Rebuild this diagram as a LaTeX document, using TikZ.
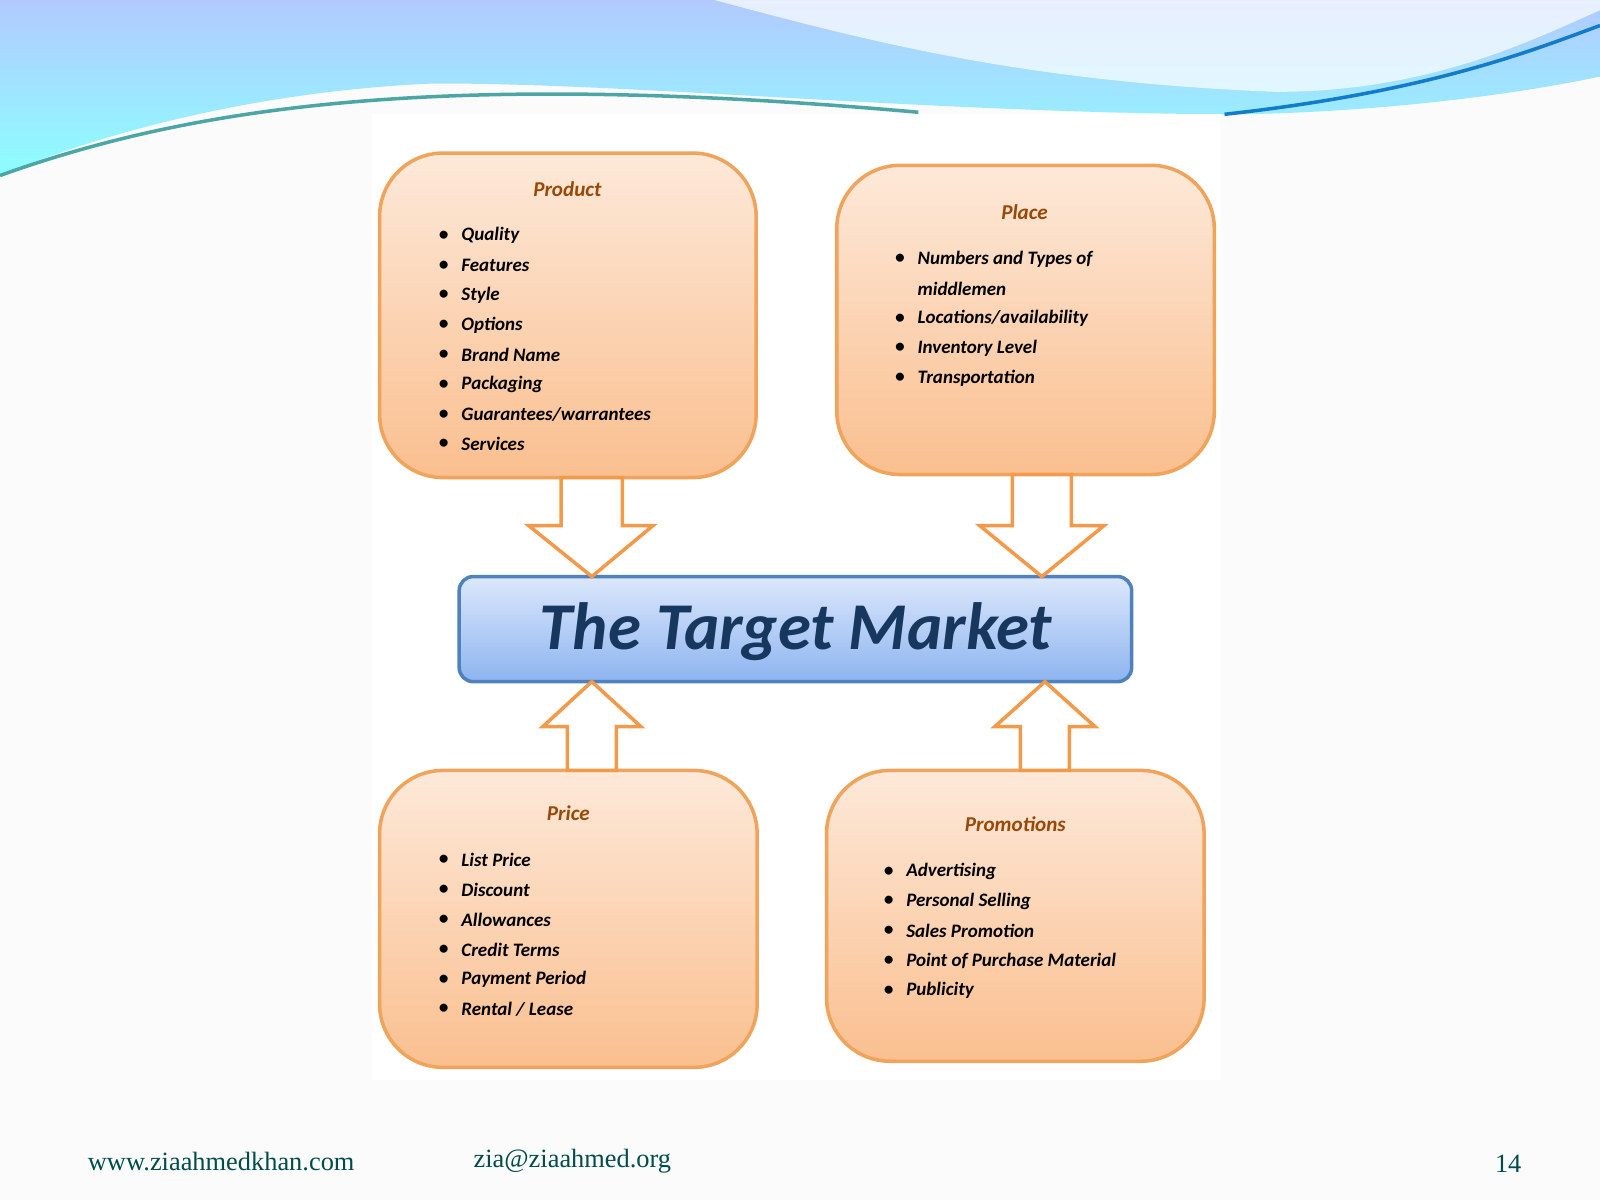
\documentclass[tikz,border=0pt]{standalone}
\usepackage{fontspec}
\setmainfont{Carlito}
\newfontfamily\footfont{Liberation Serif}
\definecolor{boxtop}{HTML}{FDE9D9}
\definecolor{boxbot}{HTML}{FABF8F}
\definecolor{boxline}{HTML}{F0A35A}
\definecolor{ttlcol}{HTML}{984807}
\definecolor{arrcol}{HTML}{F29A4A}
\definecolor{tmtop}{HTML}{DCE8FC}
\definecolor{tmbot}{HTML}{8DB4F0}
\definecolor{tmline}{HTML}{4F81BD}
\definecolor{tmtext}{HTML}{17375E}
\begin{document}
\begin{tikzpicture}[x=0.0102cm,y=-0.0102cm,
  mixbox/.style={draw=boxline, line width=1pt, rounded corners=18pt,
    top color=boxtop, bottom color=boxbot},
  ttl/.style={font=\fontsize{6pt}{7pt}\selectfont\bfseries\itshape, text=ttlcol},
  itm/.style={font=\fontsize{5.4pt}{7pt}\selectfont\bfseries\itshape, anchor=west, text=black},
  blockarrow/.style={draw=arrcol, line width=1pt, fill=white, line join=miter}]
\useasboundingbox (0,0) rectangle (1568,1176);
\fill[gray!3] (0,0) rectangle (1568,1176);
% top wave
\shade[top color=cyan!30!blue!30, bottom color=cyan!45] (0,0) -- (1568,0) -- (1568,75)
  .. controls (1450,100) and (1300,112) .. (1200,112)
  .. controls (900,110) and (600,80) .. (420,82)
  .. controls (250,90) and (100,130) .. (0,172) -- cycle;
\fill[white,opacity=0.7] (700,0) .. controls (850,40) and (1000,80) .. (1250,90)
  .. controls (1400,90) and (1500,40) .. (1568,10) -- (1568,0) -- cycle;
\draw[teal!70,line width=1pt] (0,172) .. controls (200,100) and (450,70) .. (900,110);
\draw[cyan!60!blue,line width=1pt] (1200,112) .. controls (1400,90) and (1500,50) .. (1568,25);
\fill[white] (365,112) rectangle (1197,1058);
% boxes
\path[mixbox] (372,150) rectangle (741,468);
\path[mixbox] (820,162) rectangle (1190,465);
\path[mixbox] (372,755) rectangle (742,1046);
\path[mixbox] (810,755) rectangle (1180,1040);
\path[draw=tmline, line width=1pt, rounded corners=4pt, top color=tmtop, bottom color=tmbot] (450,565) rectangle (1109,668);
\node (prod) at (556,309) {};
\node (place) at (1005,313) {};
\node (price) at (557,900) {};
\node (promo) at (995,897) {};
\node[font=\fontsize{19pt}{22pt}\selectfont\bfseries\itshape, text=tmtext] (tm) at (780,619) {The Target Market};
% arrows
\draw[blockarrow] (550,468) -- (610,468) -- (610,515) -- (640,515) -- (580,565) -- (518,515) -- (550,515) -- cycle;
\draw[blockarrow] (992,465) -- (1050,465) -- (1050,515) -- (1082,515) -- (1021,565) -- (960,515) -- (992,515) -- cycle;
\draw[blockarrow] (556,755) -- (604,755) -- (604,712) -- (628,712) -- (580,668) -- (532,712) -- (556,712) -- cycle;
\draw[blockarrow] (1000,755) -- (1048,755) -- (1048,712) -- (1073,712) -- (1024,668) -- (975,712) -- (1000,712) -- cycle;
% text
\newcommand\bul[3]{\node[itm] at (#1,#2) {\textbullet}; \node[itm] at ({#1+22},#2) {#3};}
\node[ttl] at (556,185) {Product};
\foreach \t [count=\i from 0] in {Quality,Features,Style,Options,Brand Name,Packaging,Guarantees/warrantees,Services}
  {\bul{418}{231+29.2*\i}{\t}}
\node[ttl] at (1004,208) {Place};
\bul{865}{254}{Numbers and Types of}
\node[itm] at (887,283) {middlemen};
\foreach \t [count=\i from 0] in {Locations/availability,Inventory Level,Transportation}
  {\bul{865}{312+29.2*\i}{\t}}
\node[ttl] at (557,797) {Price};
\foreach \t [count=\i from 0] in {List Price,Discount,Allowances,Credit Terms,Payment Period,Rental / Lease}
  {\bul{418}{843+29.2*\i}{\t}}
\node[ttl] at (995,808) {Promotions};
\foreach \t [count=\i from 0] in {Advertising,Personal Selling,Sales Promotion,Point of Purchase Material,Publicity}
  {\bul{854}{854+29.2*\i}{\t}}
% footer
\node[font=\footfont\fontsize{7.5pt}{9pt}\selectfont, text=teal!60!black, anchor=west] (f1) at (74,1138) {www.ziaahmedkhan.com};
\node[font=\footfont\fontsize{7.5pt}{9pt}\selectfont, text=teal!60!black, anchor=west] (f2) at (452,1138) {zia@ziaahmed.org};
\node[font=\footfont\fontsize{7.5pt}{9pt}\selectfont, text=teal!60!black] (f3) at (1478,1140) {14};
\end{tikzpicture}
\end{document}
